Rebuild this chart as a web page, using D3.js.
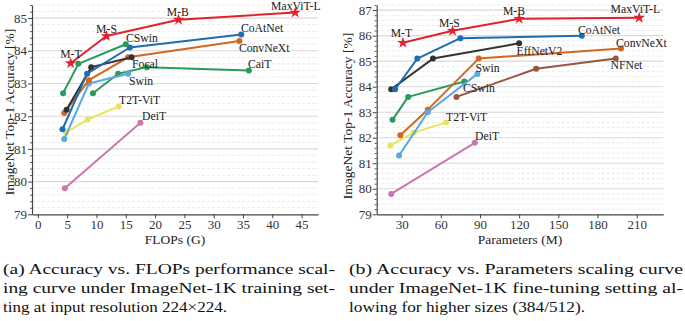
<!DOCTYPE html>
<html><head><meta charset="utf-8">
<script src="https://cdn.jsdelivr.net/npm/d3@7"></script>
<style>body{margin:0;background:#fff}svg{display:block}</style>
</head><body>
<svg id="c" width="685" height="321"></svg>
<script>
// ---------- Data: panel (a) FLOPs (G) vs accuracy ----------
const maxvitFlops   = [5.6, 11.7, 24.0, 43.9];
const maxvitAccA    = [83.62, 84.45, 84.95, 85.17];
const coatnetFlops  = [4.2, 8.4, 15.7, 34.7];
const coatnetAccA   = [81.6, 83.3, 84.1, 84.5];
const convnextFlops = [4.5, 8.7, 15.4, 34.4];
const convnextAccA  = [82.1, 83.1, 83.8, 84.3];
const cswinFlops    = [4.3, 6.9, 15.0];
const cswinAccA     = [82.7, 83.6, 84.2];
const caitFlops     = [9.4, 13.7, 18.6, 36.0];
const caitAccA      = [82.7, 83.3, 83.5, 83.4];
const focalFlops    = [4.9, 9.1, 16.0];
const focalAccA     = [82.2, 83.5, 83.8];
const swinFlops     = [4.5, 8.7, 15.4];
const swinAccA      = [81.3, 83.0, 83.3];
const t2tFlops      = [4.8, 8.5, 13.8];
const t2tAccA       = [81.5, 81.9, 82.3];
const deitFlops     = [4.6, 17.5];
const deitAccA      = [79.8, 81.8];

// ---------- Data: panel (b) Parameters (M) vs accuracy ----------
const maxvitParams   = [31, 69, 120, 212];
const maxvitAccB     = [85.72, 86.19, 86.66, 86.70];
const coatnetParams  = [25, 42, 75, 168];
const coatnetAccB    = [83.9, 85.1, 85.9, 86.0];
const effnetParams   = [22, 54, 120];
const effnetAccB     = [83.9, 85.1, 85.7];
const convnextParams = [29, 50, 89, 198];
const convnextAccB   = [82.1, 83.1, 85.1, 85.5];
const swinParams     = [28, 50, 88];
const swinAccB       = [81.3, 83.0, 84.5];
const cswinParams    = [23, 35, 78];
const cswinAccB      = [82.7, 83.6, 84.2];
const nfnetParams    = [72, 133, 194];
const nfnetAccB      = [83.6, 84.7, 85.1];
const t2tParams      = [21.5, 39.2, 64.1];
const t2tAccB        = [81.7, 82.2, 82.6];
const deitParams     = [22, 86];
const deitAccB       = [79.8, 81.8];

// ---------- Tick labels ----------
const xTicksA = [0, 5, 10, 15, 20, 25, 30, 35, 40, 45];
const yTicksA = [79, 80, 81, 82, 83, 84, 85];
const xTicksB = [30, 60, 90, 120, 150, 180, 210];
const yTicksB = [79, 80, 81, 82, 83, 84, 85, 86, 87];

// ---------- Annotation labels (text, position in data units) ----------
const labelsA = [
  ["MaxViT-L", 39.8, 85.36], ["M-B", 22.0, 85.18], ["M-S", 9.94, 84.68], ["M-T", 3.8, 83.89],
  ["CSwin", 15.05, 84.38], ["CoAtNet", 34.65, 84.70], ["ConvNeXt", 34.3, 84.10], ["CaiT", 35.85, 83.61],
  ["Focal", 16.07, 83.61], ["Swin", 15.56, 83.08], ["T2T-ViT", 13.86, 82.51], ["DeiT", 17.78, 82.0]
];
const labelsB = [
  ["MaxViT-L", 190, 87.03], ["M-B", 107.6, 86.97], ["M-S", 58.6, 86.50], ["M-T", 21.6, 86.09],
  ["CoAtNet", 165, 86.24], ["ConvNeXt", 194.2, 85.72], ["EffNetV2", 118, 85.41], ["NFNet", 190, 84.85],
  ["Swin", 86.6, 84.72], ["CSwin", 77.0, 83.94], ["T2T-ViT", 64, 82.82], ["DeiT", 86.2, 82.06]
];

const captionA = ["(a) Accuracy vs. FLOPs performance scal-",
                  "ing curve under ImageNet-1K training set-",
                  "ting at input resolution 224\u00d7224."];
const captionB = ["(b) Accuracy vs. Parameters scaling curve",
                  "under ImageNet-1K fine-tuning setting al-",
                  "lowing for higher sizes (384/512)."];

// ---------- Styles ----------
const C = {
  maxvit: "#e3202b", coatnet: "#1f6db0", convnext: "#d2661f", cswin: "#2a9a5a",
  cait: "#2a9a5a", focal: "#333333", swin: "#5aa8e0", t2t: "#ece35c", deit: "#c977ad",
  effnet: "#333333", nfnet: "#9a5540"
};
const FONT = "'Liberation Serif', 'Times New Roman', serif";

const svg = d3.select("#c");

function panel(opt) {
  const g = svg.append("g");
  const x = d3.scaleLinear().domain(opt.xDomain).range([opt.left, opt.right]);
  const y = d3.scaleLinear().domain(opt.yDomain).range([opt.bottom, opt.top]);

  // gridlines
  const minor = d3.range(opt.yDomain[0], opt.yDomain[1] + 1e-9, 0.2)
    .filter(v => Math.abs(v - Math.round(v)) > 1e-6);
  g.append("g").selectAll("line").data(minor).join("line")
    .attr("x1", opt.left).attr("x2", opt.right)
    .attr("y1", d => y(d)).attr("y2", d => y(d))
    .attr("stroke", "#e6e6e6").attr("stroke-width", 0.8).attr("stroke-dasharray", "3,2");
  g.append("g").selectAll("line").data(opt.yTicks.slice(1)).join("line")
    .attr("x1", opt.left).attr("x2", opt.right)
    .attr("y1", d => y(d)).attr("y2", d => y(d))
    .attr("stroke", "#d9d9d9").attr("stroke-width", 1.1);

  // axes
  const xa = g.append("g").attr("transform", `translate(0,${opt.bottom})`)
    .call(d3.axisBottom(x).tickValues(opt.xTicks).tickSize(4).tickPadding(1).tickSizeOuter(0).tickFormat(d3.format("d")));
  const ya = g.append("g").attr("transform", `translate(${opt.left},0)`)
    .call(d3.axisLeft(y).tickValues(opt.yTicks).tickSize(4).tickPadding(1).tickSizeOuter(0).tickFormat(d3.format("d")));
  g.append("g").attr("transform", `translate(${opt.left},0)`)
    .call(d3.axisLeft(y).tickValues(minor).tickSize(2).tickFormat(""))
    .call(a => a.select(".domain").remove())
    .selectAll("line").attr("stroke", "#555");
  [xa, ya].forEach(a => {
    a.select(".domain").attr("stroke", "#444").attr("stroke-width", 1.2);
    a.selectAll(".tick line").attr("stroke", "#444");
    a.selectAll("text").attr("font-family", FONT).attr("font-size", 13).attr("fill", "#333");
  });

  // axis titles
  g.append("text").attr("x", (opt.left + opt.right) / 2).attr("y", opt.bottom + 30)
    .attr("text-anchor", "middle").attr("font-family", FONT).attr("font-size", 13.5)
    .attr("fill", "#222").text(opt.xTitle);
  g.append("text").attr("transform", `translate(${opt.yTitleX},${opt.yTitleY}) rotate(-90)`)
    .attr("text-anchor", "middle").attr("font-family", FONT).attr("font-size", 13.5)
    .attr("fill", "#222").text("ImageNet Top-1 Accuracy [%]");

  // series
  const line = d3.line().x(d => x(d[0])).y(d => y(d[1]));
  opt.series.forEach(s => {
    const pts = s.xs.map((v, i) => [v, s.ys[i]]);
    g.append("path").datum(pts).attr("d", line).attr("fill", "none")
      .attr("stroke", s.color).attr("stroke-width", 2).attr("stroke-linejoin", "round");
    if (s.star) {
      g.append("g").selectAll("path").data(pts).join("path")
        .attr("transform", d => `translate(${x(d[0])},${y(d[1])})`)
        .attr("d", d3.symbol(d3.symbolStar, 42)).attr("fill", s.color);
    } else {
      g.append("g").selectAll("circle").data(pts).join("circle")
        .attr("cx", d => x(d[0])).attr("cy", d => y(d[1])).attr("r", 3).attr("fill", s.color);
    }
  });

  // annotations
  g.append("g").selectAll("text").data(opt.labels).join("text")
    .attr("x", d => x(d[1])).attr("y", d => y(d[2])).attr("dy", "0.35em")
    .attr("font-family", FONT).attr("font-size", 11.7).attr("fill", "#222")
    .text(d => d[0]);
}

panel({
  left: 32, right: 318, top: 5, bottom: 214.3,
  xDomain: [-1, 47.8], yDomain: [79, 85.4],
  xTicks: xTicksA, yTicks: yTicksA, xTitle: "FLOPs (G)", yTitleX: 14, yTitleY: 112,
  labels: labelsA,
  series: [
    {xs: deitFlops, ys: deitAccA, color: C.deit},
    {xs: t2tFlops, ys: t2tAccA, color: C.t2t},
    {xs: caitFlops, ys: caitAccA, color: C.cait},
    {xs: swinFlops, ys: swinAccA, color: C.swin},
    {xs: convnextFlops, ys: convnextAccA, color: C.convnext},
    {xs: focalFlops, ys: focalAccA, color: C.focal},
    {xs: coatnetFlops, ys: coatnetAccA, color: C.coatnet},
    {xs: cswinFlops, ys: cswinAccA, color: C.cswin},
    {xs: maxvitFlops, ys: maxvitAccA, color: C.maxvit, star: true}
  ]
});

panel({
  left: 376.7, right: 663.3, top: 5, bottom: 214.3,
  xDomain: [10.9, 230.4], yDomain: [79, 87.2],
  xTicks: xTicksB, yTicks: yTicksB, xTitle: "Parameters (M)", yTitleX: 352, yTitleY: 116,
  labels: labelsB,
  series: [
    {xs: deitParams, ys: deitAccB, color: C.deit},
    {xs: t2tParams, ys: t2tAccB, color: C.t2t},
    {xs: nfnetParams, ys: nfnetAccB, color: C.nfnet},
    {xs: cswinParams, ys: cswinAccB, color: C.cswin},
    {xs: convnextParams, ys: convnextAccB, color: C.convnext},
    {xs: swinParams, ys: swinAccB, color: C.swin},
    {xs: effnetParams, ys: effnetAccB, color: C.effnet},
    {xs: coatnetParams, ys: coatnetAccB, color: C.coatnet},
    {xs: maxvitParams, ys: maxvitAccB, color: C.maxvit, star: true}
  ]
});

// captions
function caption(lines, x0, widths) {
  svg.append("g").selectAll("text").data(lines).join("text")
    .attr("x", x0).attr("y", (d, i) => 274 + i * 19)
    .attr("font-family", FONT).attr("font-size", 15.5).attr("fill", "#111")
    .attr("textLength", (d, i) => widths[i]).attr("lengthAdjust", "spacingAndGlyphs")
    .text(d => d);
}
caption(captionA, 3, [332, 332, 224]);
caption(captionB, 349, [334, 334, 236]);
</script>
</body></html>
